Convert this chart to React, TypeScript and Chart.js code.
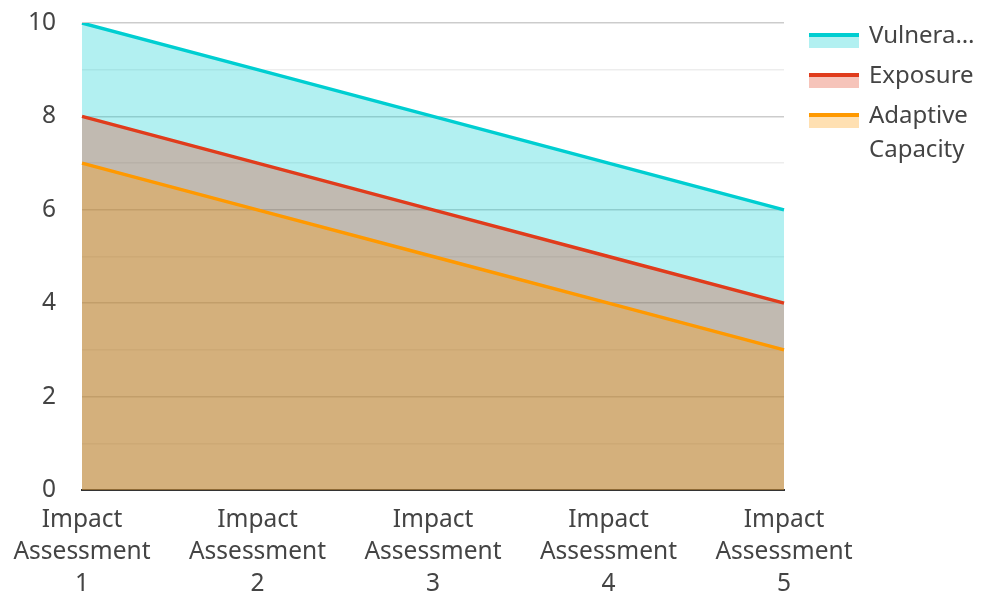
import React, { useEffect, useRef } from "react";
import { Chart, registerables } from "chart.js";

Chart.register(...registerables);

const categories: string[][] = [
  ["Impact", "Assessment", "1"],
  ["Impact", "Assessment", "2"],
  ["Impact", "Assessment", "3"],
  ["Impact", "Assessment", "4"],
  ["Impact", "Assessment", "5"],
];
const vulnerability = [10, 9, 8, 7, 6];
const exposure = [8, 7, 6, 5, 4];
const adaptiveCapacity = [7, 6, 5, 4, 3];
const yTickLabels = [0, 2, 4, 6, 8, 10];

const seriesNames = ["Vulnerability", "Exposure", "Adaptive Capacity"];
const lineColors = ["#00CED1", "#E03C1C", "#FF9900"];
const fillColors = ["rgba(0,206,209,0.3)", "rgba(224,60,28,0.3)", "rgba(255,153,0,0.3)"];

const FONT = "'Noto Sans', 'Open Sans', sans-serif";
const TEXT = "#444444";

export default function App() {
  const canvasRef = useRef<HTMLCanvasElement | null>(null);

  useEffect(() => {
    const canvas = canvasRef.current;
    if (!canvas) return;
    const seriesData = [vulnerability, exposure, adaptiveCapacity];
    const chart = new Chart(canvas, {
      type: "line",
      data: {
        labels: categories,
        datasets: seriesData.map((d, i) => ({
          label: seriesNames[i],
          data: d,
          borderColor: lineColors[i],
          backgroundColor: fillColors[i],
          borderWidth: 3.4,
          pointRadius: 0,
          pointHoverRadius: 0,
          fill: "origin",
          tension: 0,
          order: 3 - i,
        })),
      },
      options: {
        responsive: false,
        animation: false,
        layout: { padding: { left: 28, right: 197, top: 23, bottom: 0 } },
        plugins: {
          legend: { display: false },
          tooltip: { enabled: false },
        },
        scales: {
          x: {
            z: 1,
            grid: { display: false, drawTicks: false },
            border: { display: true, color: "#333333", width: 2 },
            ticks: {
              color: TEXT,
              font: { family: FONT, size: 24.5, lineHeight: 1.3 },
              padding: 14,
              maxRotation: 0,
              autoSkip: false,
            },
            afterFit: (s: any) => {
              s.paddingLeft = 0;
              s.paddingRight = 0;
              s.paddingTop = 0;
              s.paddingBottom = 0;
              s.height = 104;
            },
          },
          y: {
            min: 0,
            max: 10,
            border: { display: false },
            grid: {
              drawTicks: false,
              color: (ctx: any) =>
                ctx.tick && ctx.tick.value % 2 === 0 ? "rgba(0,0,0,0.2)" : "rgba(0,0,0,0.07)",
              lineWidth: 1.5,
            },
            ticks: {
              stepSize: 1,
              padding: 26,
              color: TEXT,
              font: { family: FONT, size: 24.5 },
              callback: (v: any) => (yTickLabels.includes(Number(v)) ? String(v) : ""),
            },
            afterFit: (s: any) => {
              s.paddingTop = 0;
              s.paddingBottom = 0;
              s.paddingLeft = 0;
              s.paddingRight = 0;
              s.width = 54;
            },
          },
        },
      },
    });
    return () => chart.destroy();
  }, []);

  return (
    <div
      style={{
        position: "absolute",
        left: 0,
        top: 0,
        width: 981,
        height: 594,
        overflow: "hidden",
        background: "#ffffff",
        fontFamily: FONT,
      }}
    >
      <canvas ref={canvasRef} width={981} height={594} style={{ position: "absolute", left: 0, top: 0 }} />
      <div style={{ position: "absolute", left: 809, top: 17 }}>
        {seriesNames.map((name, i) => {
          const single = !name.includes(" ");
          return (
            <div key={name} style={{ display: "flex", alignItems: "flex-start", marginBottom: 6 }}>
              <div style={{ width: 50, marginTop: 16, flex: "0 0 auto" }}>
                <div style={{ height: 4, background: lineColors[i] }} />
                <div style={{ height: 11, background: fillColors[i] }} />
              </div>
              <div
                style={{
                  marginLeft: 10,
                  width: 112,
                  fontSize: 24,
                  lineHeight: "34px",
                  color: TEXT,
                  whiteSpace: single ? "nowrap" : "normal",
                  overflow: "hidden",
                  textOverflow: single ? "ellipsis" : "clip",
                }}
              >
                {name}
              </div>
            </div>
          );
        })}
      </div>
    </div>
  );
}
